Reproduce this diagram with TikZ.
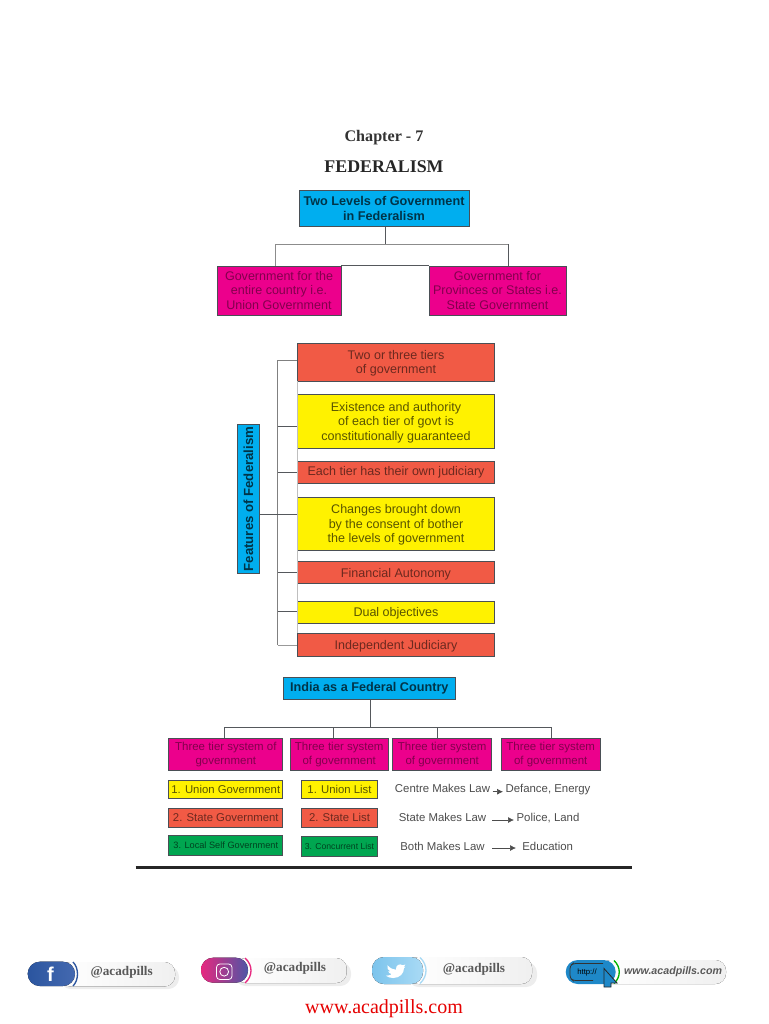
\documentclass[tikz,border=0pt]{standalone}
\usepackage{fontspec}
\setmainfont{Liberation Sans}
\newfontfamily\serifhead{Liberation Serif}
\usepackage{tikz}
\usetikzlibrary{arrows.meta}

\definecolor{fedblue}{HTML}{00AEEF}
\definecolor{fedpink}{HTML}{EC008C}
\definecolor{fedred}{HTML}{F15A45}
\definecolor{fedyellow}{HTML}{FFF200}
\definecolor{fedgreen}{HTML}{00A650}
\definecolor{edgegray}{HTML}{4A4F55}
\definecolor{wirecol}{HTML}{55585C}
\definecolor{fbdark}{HTML}{2B559F}
\definecolor{fblight}{HTML}{4469B0}
\definecolor{igpink}{HTML}{E6287F}
\definecolor{igblue}{HTML}{4F55A5}
\definecolor{twdark}{HTML}{7CC4EC}
\definecolor{twlight}{HTML}{A9DAF5}
\definecolor{webblue}{HTML}{1E88C8}

\tikzset{
    sized/.style 2 args={minimum width=#1*0.75pt,minimum height=#2*0.75pt},
    box/.style={draw=edgegray,line width=0.7pt,inner sep=0pt,align=center,
        font=\fontsize{9.4}{10.8}\selectfont},
    textlow/.style={text depth=0pt},
    bluebox/.style={box,fill=fedblue,text=black!70!fedblue,
        font=\fontsize{9.5}{10.8}\selectfont\bfseries},
    pinkbox/.style={box,fill=fedpink,text=black!45!fedpink},
    tierbox/.style={pinkbox,font=\fontsize{8.6}{10.4}\selectfont},
    redbox/.style={box,fill=fedred,text=black!55!fedred},
    yellowbox/.style={box,fill=fedyellow,text=black!65!fedyellow},
    greenbox/.style={box,fill=fedgreen,text=black!60!fedgreen},
    smallfont/.style={font=\fontsize{8.5}{10}\selectfont},
    wire/.style={draw=wirecol,line width=0.7pt},
    lawtext/.style={inner sep=0pt,text height=7pt,text depth=2pt,text=black!70,font=\fontsize{8.55}{10}\selectfont},
    lawarrow/.style={draw=black!70,line width=0.5pt,-{Latex[length=4.5pt,width=4.5pt]}},
    pilltext/.style={inner sep=0pt,text=black!65,font=\fontsize{9.9}{11}\selectfont\serifhead\bfseries},
    pillback/.style={rounded corners=8pt,left color=white,right color=black!6,draw=none},
    pillshade/.style={rounded corners=8pt,fill=black!7,draw=none},
}

\begin{document}
\begin{tikzpicture}[x=0.75pt,y=-0.75pt]
    \useasboundingbox (0,0) rectangle (768,1024);

    % headings
    \node[inner sep=0pt,text=black!80,font=\fontsize{12.1}{13}\selectfont\serifhead\bfseries] (chapter) at (384,137.5) {Chapter - 7};
    \node[inner sep=0pt,text=black!85,font=\fontsize{13.4}{16}\selectfont\serifhead\bfseries] (title) at (384,167) {FEDERALISM};

    % two levels
    \node[bluebox,sized={170}{35.5}] (levels) at (384,208.5) {Two Levels of Government\\in Federalism};
    \node[pinkbox,sized={124}{49}] (union) at (279,290.5) {Government for the\\entire country i.e.\\Union Government};
    \node[pinkbox,sized={137}{49}] (state) at (497.5,290.5) {Government for\\Provinces or States i.e.\\State Government};

    \coordinate (levelsbus) at (385,244);
    \coordinate (levelsL) at (275,244);
    \coordinate (levelsR) at (508,244);
    \draw[wire] (levels.south -| levelsbus) -- (levelsbus);
    \draw[wire,draw=black!45] (levelsL) -- (levelsR);
    \draw[wire,draw=black!45] (levelsL) -- (levelsL |- union.north);
    \draw[wire] (levelsR) -- (levelsR |- state.north);
    \draw[wire] (union.north east) -- (state.north west);

    % features
    \node[box,fill=fedblue,text=black!70!fedblue,sized={149.5}{21.6},rotate=90,font=\fontsize{9.9}{10.9}\selectfont\bfseries] (features) at (248.5,499) {Features of Federalism};
    \node[redbox,textlow,sized={197}{38}] (tiers) at (396,362) {Two or three tiers\\of government};
    \node[yellowbox,textlow,sized={197}{53.5}] (authority) at (396,421.3) {Existence and authority\\of each tier of govt is\\constitutionally guaranteed};
    \node[redbox,sized={197}{21.6}] (judiciary) at (396,472.5) {Each tier has their own judiciary};
    \node[yellowbox,textlow,sized={197}{53}] (changes) at (396,523.8) {Changes brought down\\by the consent of bother\\the levels of government};
    \node[redbox,textlow,sized={197}{22}] (finance) at (396,572.7) {Financial Autonomy};
    \node[yellowbox,textlow,sized={197}{21.4}] (dual) at (396,612.3) {Dual objectives};
    \node[redbox,textlow,sized={197}{22.3}] (independent) at (396,644.9) {Independent Judiciary};

    \coordinate (featT) at (277.7,360.3);
    \coordinate (featB) at (277.7,645);
    \coordinate (featM) at (277.7,514.5);
    \coordinate (feat2) at (277.7,426.3);
    \coordinate (feat3) at (277.7,472);
    \coordinate (feat5) at (277.7,572.5);
    \coordinate (feat6) at (277.7,611.7);
    \draw[wire,draw=black!25] (tiers.south west) -- (independent.north west);
    \draw[wire,draw=black!50] (featT) -- (featB);
    \draw[wire,draw=black!50] (featT) -- (featT -| tiers.west);
    \draw[wire] (feat2) -- (feat2 -| authority.west);
    \draw[wire] (feat3) -- (feat3 -| judiciary.west);
    \draw[wire] (features.south |- featM) -- (featM -| changes.west);
    \draw[wire] (feat5) -- (feat5 -| finance.west);
    \draw[wire] (feat6) -- (feat6 -| dual.west);
    \draw[wire,draw=black!40] (featB) -- (featB -| independent.west);

    % india
    \node[bluebox,sized={172}{22.4}] (india) at (369.3,688.5) {India as a Federal Country};
    \node[tierbox,sized={113.7}{31.7}] (tierA) at (225.8,754.2) {Three tier system of\\government};
    \node[tierbox,sized={97.7}{31.7}] (tierB) at (339.2,754.2) {Three tier system\\of government};
    \node[tierbox,sized={99}{31.7}] (tierC) at (442.2,754.2) {Three tier system\\of government};
    \node[tierbox,sized={98.7}{31.7}] (tierD) at (550.7,754.2) {Three tier system\\of government};

    \coordinate (indiabus) at (370.7,727.5);
    \coordinate (busA) at (224.3,727.5);
    \coordinate (busB) at (333.7,727.5);
    \coordinate (busC) at (437,727.5);
    \coordinate (busD) at (551.7,727.5);
    \draw[wire] (india.south -| indiabus) -- (indiabus);
    \draw[wire] (busA) -- (busD);
    \draw[wire] (busA) -- (busA |- tierA.north);
    \draw[wire] (busB) -- (busB |- tierB.north);
    \draw[wire] (busC) -- (busC |- tierC.north);
    \draw[wire] (busD) -- (busD |- tierD.north);

    \node[yellowbox,smallfont,sized={113.7}{18.7}] (uniongov) at (225.8,789.6) {1. Union Government};
    \node[redbox,smallfont,sized={113.7}{19}] (stategov) at (225.8,817.5) {2. State Government};
    \node[greenbox,sized={113.7}{20},font=\fontsize{6.9}{8}\selectfont] (localgov) at (225.8,845) {3. Local Self Government};
    \node[yellowbox,smallfont,sized={75.6}{18.7}] (unionlist) at (339.5,789.6) {1. Union List};
    \node[redbox,smallfont,sized={75.6}{19}] (statelist) at (339.5,817.5) {2. State List};
    \node[greenbox,sized={75.6}{20},font=\fontsize{6.5}{8}\selectfont] (conclist) at (339.5,846) {3. Concurrent List};

    \node[lawtext] (centre) at (442.5,789) {Centre Makes Law};
    \node[lawtext] (defence) at (548,789) {Defance, Energy};
    \node[lawtext] (statelaw) at (442.5,818) {State Makes Law};
    \node[lawtext] (police) at (548,818) {Police, Land};
    \node[lawtext] (both) at (442.5,847) {Both Makes Law};
    \node[lawtext] (education) at (547.7,847) {Education};
    \coordinate (arrAs) at (492.7,791.7);
    \coordinate (arrAe) at (503,791.7);
    \coordinate (arrBs) at (492.3,820);
    \coordinate (arrBe) at (514,820);
    \coordinate (arrCs) at (492.3,848);
    \coordinate (arrCe) at (516,848);
    \draw[lawarrow] (arrAs) -- (arrAe);
    \draw[lawarrow] (arrBs) -- (arrBe);
    \draw[lawarrow] (arrCs) -- (arrCe);

    % rule
    \draw[black!85,line width=1.9pt] (135.7,867.3) -- (632.3,867.3);

    % footer badges
    \fill[pillshade] (60,966) rectangle (179,989);
    \fill[pillback] (60,962) rectangle (175,986.5);
    \fill[left color=fbdark,right color=fblight,rounded corners=9pt] (27.7,961.7) rectangle (75,986);
    \draw[fbdark,line width=1pt] (73,962) .. controls (79,968) and (79,980) .. (73,986);
    \node[inner sep=0pt,text=white,font=\fontsize{15}{15}\selectfont\bfseries] (fbicon) at (50.5,974.5) {f};
    \node[pilltext] (fbname) at (121.7,972.3) {@acadpills};

    \fill[pillshade] (235,962) rectangle (351,986);
    \fill[pillback] (235,958) rectangle (346.7,983);
    \fill[left color=igpink,right color=igblue,rounded corners=9pt] (201,957.7) rectangle (248,982.7);
    \draw[igpink,line width=1pt] (245,958) .. controls (253,965) and (253,976) .. (245,983);
    \draw[white,line width=0.6pt,rounded corners=2.5pt] (216.5,964) rectangle (232,979.5);
    \draw[white,line width=0.6pt] (224.2,971.7) circle (4.4);
    \node[pilltext] (instaname) at (295,968.3) {@acadpills};

    \fill[pillshade] (408,962) rectangle (537,987);
    \fill[pillback] (408,957) rectangle (532,984);
    \fill[left color=twdark,right color=twlight,rounded corners=9pt] (372,957) rectangle (423,984);
    \draw[twlight,line width=1pt] (420,957.5) .. controls (428,965) and (428,976) .. (420,983.5);
    \fill[white,shift={(109.5,242.25)},xscale=0.72,yscale=0.75] (386,964) .. controls (390,968) and (394,970) .. (398,970) .. controls (397,964) and (403,961) .. (407,964) -- (411,963) -- (409,966) -- (411,966) -- (409,968) .. controls (409,975) and (403,981) .. (394,981) .. controls (390,981) and (387,980) .. (384,978) .. controls (387,978) and (390,977) .. (392,976) .. controls (389,975) and (388,974) .. (387,972) -- (390,972) .. controls (387,971) and (385,968) .. (386,964) -- cycle;
    \node[pilltext] (twname) at (474,969) {@acadpills};

    \fill[pillback] (600,960) rectangle (726,984);
    \fill[webblue,rounded corners=9pt] (565.7,960) rectangle (615.7,984);
    \draw[green!70!black,line width=1pt] (614,960.5) .. controls (621,967) and (621,977) .. (614,983.5);
    \draw[black!80,line width=0.6pt,rounded corners=2pt] (603,963.5) -- (573,963.5) -- (570,966) -- (570,978) -- (573,980.5) -- (593,980.5);
    \node[inner sep=0pt,text=black,font=\fontsize{5.8}{6}\selectfont] (httptext) at (587,972) {http://};
    \draw[black!85,line width=0.6pt,fill=webblue] (604,968.5) -- (617,983) -- (611,983) -- (611,987) -- (604,987) -- cycle;
    \node[pilltext,font=\fontsize{8}{10}\selectfont\bfseries\itshape] (webname) at (673,971.7) {www.acadpills.com};

    \node[inner sep=0pt,text=red!90!black,font=\fontsize{15}{15}\selectfont\serifhead] (site) at (384,1009) {www.acadpills.com};
\end{tikzpicture}
\end{document}
